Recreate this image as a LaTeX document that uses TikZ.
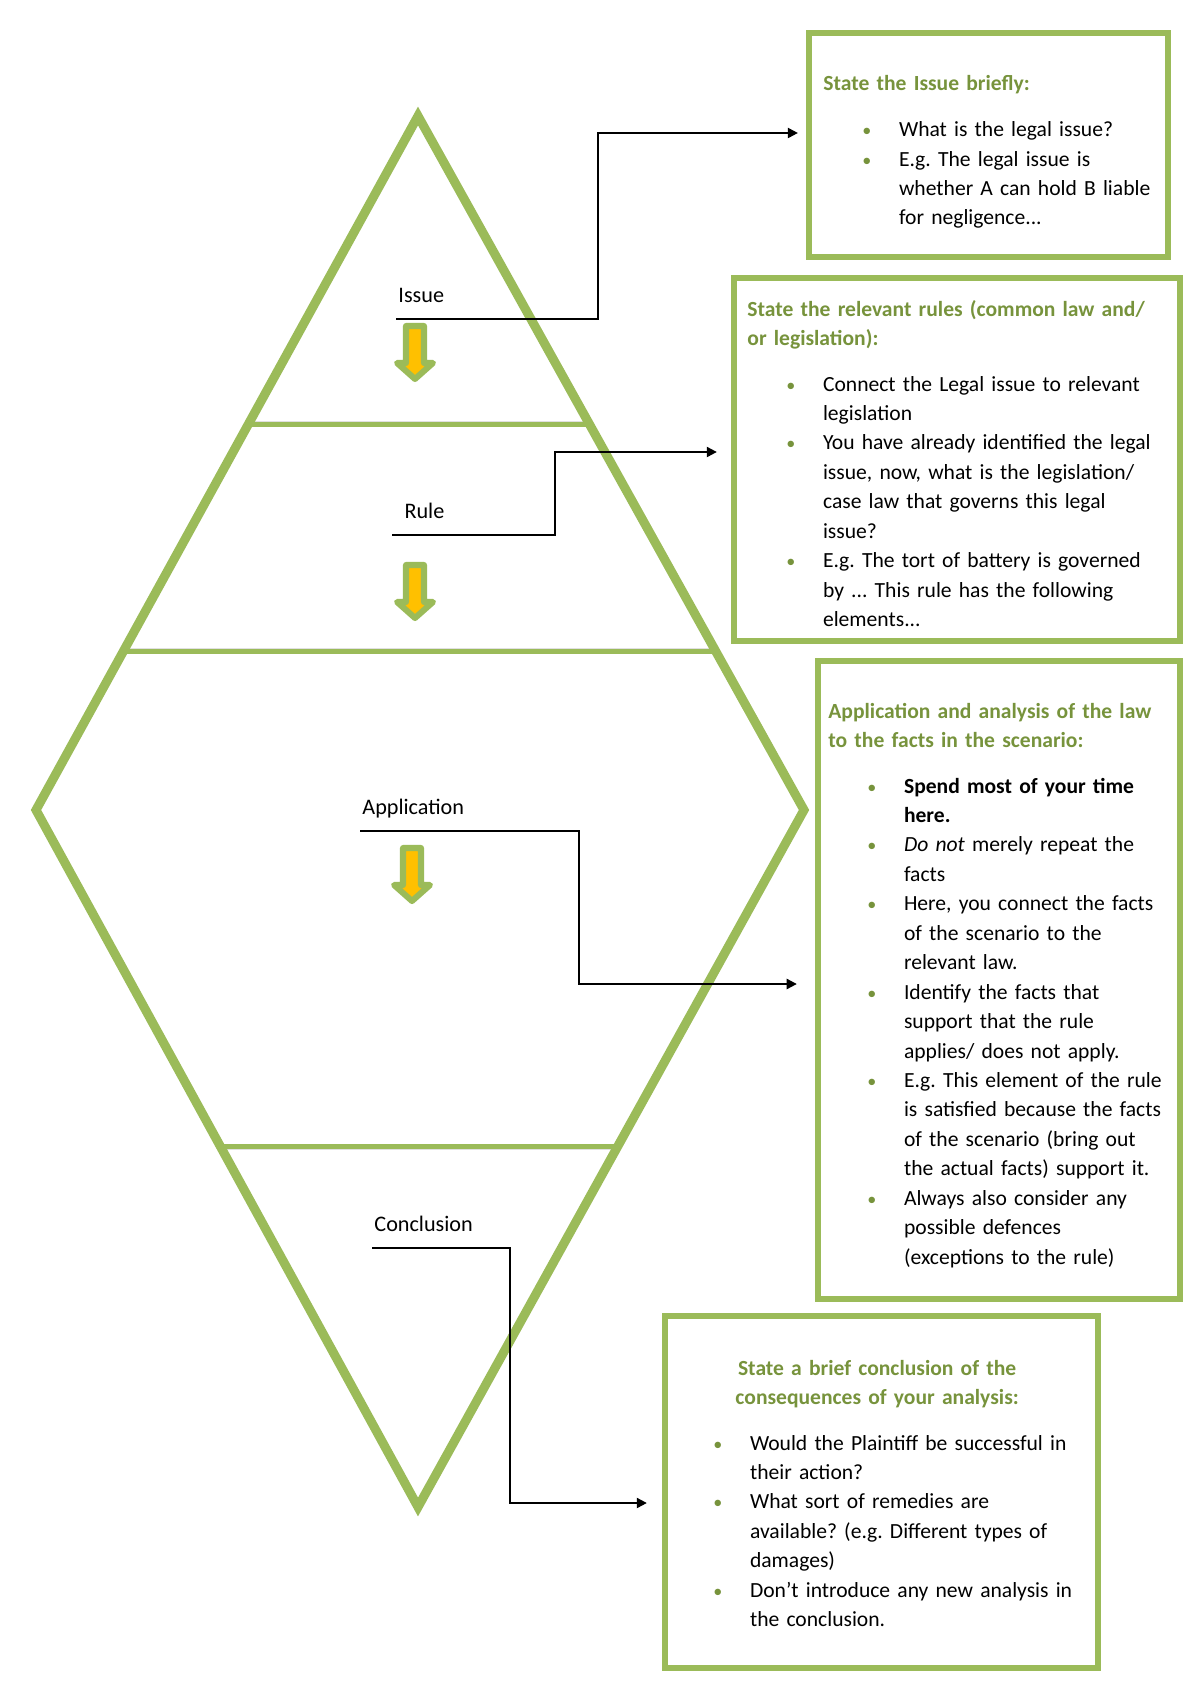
\documentclass[tikz,border=0pt]{standalone}
\usepackage{fontspec}
\setmainfont{Carlito}
\usepackage{tikz}
\usetikzlibrary{arrows.meta,calc,fit,shapes}
\setlength{\parindent}{0pt}
\frenchspacing
\definecolor{leaf}{HTML}{9BBB59}
\definecolor{leafdark}{HTML}{77933C}
\definecolor{amber}{HTML}{FFC000}
\tikzstyle{rim}=[draw=leaf,line width=4.5pt,line join=miter]
\tikzstyle{band}=[draw=leaf,line width=2.5pt]
\tikzstyle{bandshadow}=[draw=black!12,line width=3pt]
\tikzstyle{panel}=[draw=leaf,line width=3pt,inner sep=0pt]
\tikzstyle{tag}=[anchor=south west,inner xsep=1pt,inner ysep=8pt,text height=8pt,text depth=0pt,font=\fontsize{11}{13}\selectfont]
\tikzstyle{notes}=[anchor=base west,inner sep=0pt,align=left,font=\fontsize{10.7}{14.6}\selectfont]
\tikzstyle{link}=[draw=black,line width=1pt,-{Triangle[length=5pt,width=5pt]}]
\tikzset{dropdown/.pic={\draw[draw=leaf,fill=amber,line width=3pt,line join=round]
  (-9,0) -- (9,0) -- (9,37) -- (18,37) -- (0,53) -- (-18,37) -- (-9,37) -- cycle;}}
\newcommand{\notehead}[1]{\textcolor{leafdark}{\bfseries #1}\par\vspace{8pt}}
\newcommand{\noteheadmid}[1]{{\centering\rightskip=29pt plus 1fil\textcolor{leafdark}{\bfseries #1}\par}\vspace{8pt}}
\newcommand{\notepoint}[1]{{\hangindent=37.5pt\hangafter=0\noindent
  \llap{\makebox[0pt][c]{\textcolor{leafdark}{\fontsize{9}{9}\selectfont\textbullet}}\hspace{16pt}}#1\par}}

\begin{document}
\begin{tikzpicture}[x=0.4958pt,y=-0.4958pt]
\useasboundingbox (0,0) rectangle (1200,1696);

% diamond and its bands
\coordinate (top) at (418,116);
\coordinate (right) at (804,810);
\coordinate (bottom) at (418,1507);
\coordinate (left) at (36,810);
\foreach \a/\b/\c/\d/\t in {top/left/top/right/0.444, top/left/top/right/0.771, left/bottom/right/bottom/0.483} {
  \draw[bandshadow,yshift=-1.5pt] ($(\a)!\t!(\b)$) -- ($(\c)!\t!(\d)$);
  \draw[band] ($(\a)!\t!(\b)$) -- ($(\c)!\t!(\d)$);
}
\draw[rim] (top) -- (right) -- (bottom) -- (left) -- cycle;

% down arrows
\pic at (415,326) {dropdown};
\pic at (415,565) {dropdown};
\pic at (412,848) {dropdown};

% stage labels
\node[tag] (issuelbl) at (396,319) {Issue};
\node[tag,inner xsep=6pt] (rulelbl) at (392,535) {Rule};
\node[tag] (applbl) at (360,831) {Application};
\node[tag] (conclbl) at (372,1248) {Conclusion};

% panels
\node[panel,fit={(809,33) (1168,257)}] (issuebox) {};
\node[panel,fit={(734,278) (1180,641)}] (rulebox) {};
\node[panel,fit={(818,661) (1180,1299)}] (appbox) {};
\node[panel,fit={(665,1316) (1098,1668)}] (concbox) {};

% connectors
\coordinate (issuebend) at (598,133);
\coordinate (rulebend) at (555,452);
\coordinate (appbend) at (579,984);
\coordinate (concbend) at (510,1503);
\draw[link,shorten >=4pt] (issuelbl.south west) -| (issuebend) -- (issuebox.west |- issuebend);
\draw[link,shorten >=7pt] (rulelbl.south west) -| (rulebend) -- (rulebox.west |- rulebend);
\draw[link,shorten >=9pt] (applbl.south west) -| (appbend) -- (appbox.west |- appbend);
\draw[link,shorten >=7.5pt] (conclbl.south west) -| (concbend) -- (concbox.west |- concbend);

% panel texts
\node[notes,text width=185pt] (issuetext) at (823,91) {%
  \notehead{State the Issue briefly:}%
  \notepoint{What is the legal issue?}%
  \notepoint{E.g. The legal issue is\newline whether A can hold B liable\newline for negligence...}};
\node[notes,text width=215pt] (ruletext) at (747,316) {%
  \notehead{State the relevant rules (common law and/\newline or legislation):}%
  \notepoint{Connect the Legal issue to relevant\newline legislation}%
  \notepoint{You have already identified the legal\newline issue, now, what is the legislation/\newline case law that governs this legal\newline issue?}%
  \notepoint{E.g. The tort of battery is governed\newline by ... This rule has the following\newline elements...}};
\node[notes,text width=185pt] (apptext) at (828,718) {%
  \notehead{Application and analysis of the law\newline to the facts in the scenario:}%
  \notepoint{\textbf{Spend most of your time\newline here.}}%
  \notepoint{\emph{Do not} merely repeat the\newline facts}%
  \notepoint{Here, you connect the facts\newline of the scenario to the\newline relevant law.}%
  \notepoint{Identify the facts that\newline support that the rule\newline applies/ does not apply.}%
  \notepoint{E.g. This element of the rule\newline is satisfied because the facts\newline of the scenario (bring out\newline the actual facts) support it.}%
  \notepoint{Always also consider any\newline possible defences\newline (exceptions to the rule)}};
\node[notes,text width=230pt] (conctext) at (674,1375) {%
  \noteheadmid{State a brief conclusion of the\\consequences of your analysis:}%
  \notepoint{Would the Plaintiff be successful in\newline their action?}%
  \notepoint{What sort of remedies are\newline available? (e.g. Different types of\newline damages)}%
  \notepoint{Don’t introduce any new analysis in\newline the conclusion.}};
\end{tikzpicture}
\end{document}
